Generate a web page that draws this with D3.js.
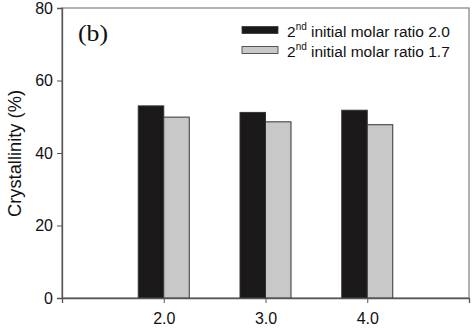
<!DOCTYPE html>
<html><head><meta charset="utf-8">
<script src="https://cdn.jsdelivr.net/npm/d3@7"></script>
<style>body{margin:0;background:#fff}svg{display:block}</style>
</head><body>
<script>
const categories = [2.0, 3.0, 4.0];
const seriesNames = ["2.0", "1.7"];
const ratio20 = [53.0, 51.2, 51.8];
const ratio17 = [49.9, 48.6, 47.8];
const yTicks = [0, 20, 40, 60, 80];

const W = 474, H = 332;
const L = 62, R = 469, T = 8, B = 298;
const svg = d3.select("body").append("svg").attr("width", W).attr("height", H);
const x = d3.scaleLinear().domain([1, 5]).range([L, R]);
const y = d3.scaleLinear().domain([0, 80]).range([B, T]);
const bw = 25.5;
const font = "Arial, 'Liberation Sans', sans-serif";
const axisCol = "#555";

// frame
svg.append("rect").attr("x", L).attr("y", T).attr("width", R - L).attr("height", B - T)
  .attr("fill", "none").attr("stroke", "#888").attr("stroke-width", 1.3);

// bars
const series = [{vals: ratio20, fill: "#1a1818", off: -1}, {vals: ratio17, fill: "#c8c8c8", off: 0}];
series.forEach(s => {
  svg.selectAll(null).data(categories).enter().append("rect")
    .attr("x", (d) => x(d) + s.off * bw)
    .attr("y", (d, i) => y(s.vals[i]))
    .attr("width", bw)
    .attr("height", (d, i) => B - y(s.vals[i]))
    .attr("fill", s.fill).attr("stroke", "#333").attr("stroke-width", 1);
});

// y axis
const ya = svg.append("g").attr("transform", `translate(${L},0)`)
  .call(d3.axisLeft(y).tickValues(yTicks).tickSize(5).tickPadding(4).tickFormat(d3.format("d")));
ya.select(".domain").attr("stroke", axisCol).attr("stroke-width", 1.3);
ya.selectAll(".tick line").attr("stroke", axisCol);
ya.selectAll("text").attr("font-family", font).attr("font-size", 16).attr("fill", "#111");

// x axis
const xa = svg.append("g").attr("transform", `translate(0,${B})`)
  .call(d3.axisBottom(x).tickValues(categories).tickSize(5).tickPadding(10).tickFormat(d3.format(".1f")));
xa.select(".domain").attr("stroke", axisCol).attr("stroke-width", 1.3);
xa.selectAll(".tick line").attr("stroke", axisCol);
xa.selectAll("text").attr("font-family", font).attr("font-size", 16).attr("fill", "#111");

// y label
svg.append("text").attr("transform", `translate(21,153.5) rotate(-90)`)
  .attr("text-anchor", "middle").attr("font-family", font).attr("font-size", 18.5).attr("fill", "#111")
  .attr("textLength", 127).attr("lengthAdjust", "spacingAndGlyphs")
  .text("Crystallinity (%)");

// panel label
svg.append("text").attr("x", 78).attr("y", 41).attr("font-family", "'Liberation Serif', 'Times New Roman', serif")
  .attr("font-size", 23).attr("fill", "#111")
  .attr("textLength", 30).attr("lengthAdjust", "spacingAndGlyphs").text("(b)");

// legend
const legY = [30, 50];
series.forEach((s, i) => {
  svg.append("rect").attr("x", 242).attr("y", legY[i] - 3.5).attr("width", 36).attr("height", 7)
    .attr("fill", s.fill).attr("stroke", "#333").attr("stroke-width", 0.8);
  const t = svg.append("text").attr("x", 287).attr("y", legY[i] + 6.5)
    .attr("font-family", font).attr("font-size", 15.5).attr("fill", "#111");
  t.append("tspan").text("2");
  t.append("tspan").attr("font-size", 10).attr("dy", -7).text("nd");
  t.append("tspan").attr("dy", 7).text(" initial molar ratio " + seriesNames[i]);
});
</script>
</body></html>
